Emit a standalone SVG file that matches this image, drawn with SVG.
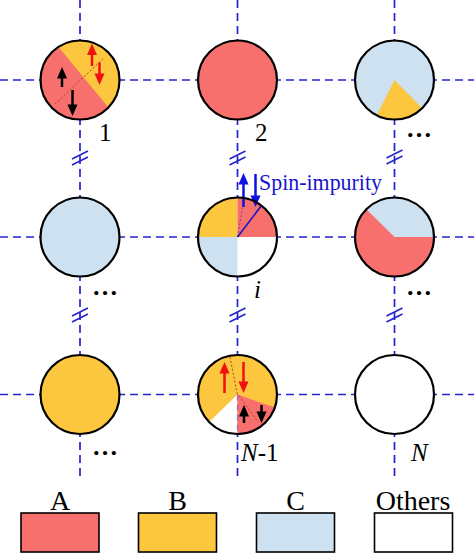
<svg xmlns="http://www.w3.org/2000/svg" width="474" height="553" viewBox="0 0 474 553">
<style>
.grid{stroke:#2424cf;stroke-width:1.7;stroke-dasharray:8,5;fill:none}
.brk{stroke:#2424cf;stroke-width:1.6;fill:none}
.ring{fill:none;stroke:#000;stroke-width:2.2}
.A{fill:#f7706d}
.B{fill:#fcc63e}
.C{fill:#cde1f1}
.O{fill:#fff}
.lbl{font-family:"Liberation Serif",serif;font-size:25px;fill:#000}
.it{font-style:italic}
.dots{font-family:"Liberation Serif",serif;font-size:26px;font-weight:bold;fill:#000}
.leg{font-family:"Liberation Serif",serif;font-size:28px;fill:#000;text-anchor:middle}
.box{stroke:#000;stroke-width:1.6}
.sk{stroke:#000;stroke-width:2.5}
.sr{stroke:#f01010;stroke-width:2.5}
.sb{stroke:#1010e0;stroke-width:2.5}
.hk{fill:#000}
.hr{fill:#f01010}
.hb{fill:#1010e0}
.dot{stroke:#b0402a;stroke-width:1;stroke-dasharray:2,2;fill:none}
</style>
<rect width="474" height="553" fill="#fff"/>
<g id="connectors">
<line class="grid" x1="80" y1="0" x2="80" y2="478"/>
<line class="grid" x1="237.5" y1="0" x2="237.5" y2="478"/>
<line class="grid" x1="394.5" y1="0" x2="394.5" y2="478"/>
<line class="grid" x1="0" y1="80" x2="474" y2="80"/>
<line class="grid" x1="0" y1="237" x2="474" y2="237"/>
<line class="grid" x1="0" y1="394.5" x2="474" y2="394.5"/>
<g class="brk">
<path d="M72,159 L88,151 M72,165 L88,157"/>
<path d="M229.5,159 L245.5,151 M229.5,165 L245.5,157"/>
<path d="M386.5,158 L402.5,150 M386.5,164 L402.5,156"/>
<path d="M72,316 L88,308 M72,322 L88,314"/>
<path d="M229.5,316 L245.5,308 M229.5,322 L245.5,314"/>
<path d="M386.5,316 L402.5,308 M386.5,322 L402.5,314"/>
</g>
</g>
<g id="node-1">
<circle class="A" cx="80" cy="80" r="39.5"/>
<path class="B" d="M58.5,46.9 A39.5,39.5 0 0 1 108.4,107.4 Z"/>
<line class="dot" x1="55" y1="104" x2="104" y2="58"/>
<line class="sk" x1="62" y1="87" x2="62" y2="76"/>
<polygon class="hk" points="62,67 57,78.5 67,78.5"/>
<line class="sk" x1="72.5" y1="90" x2="72.5" y2="106"/>
<polygon class="hk" points="72.5,116 67.5,104.5 77.5,104.5"/>
<line class="sr" x1="92" y1="66" x2="92" y2="52"/>
<polygon class="hr" points="92,43.5 87,55 97,55"/>
<line class="sr" x1="99.5" y1="62.5" x2="99.5" y2="75"/>
<polygon class="hr" points="99.5,85 94.5,73.5 104.5,73.5"/>
<circle class="ring" cx="80" cy="80" r="39.5"/>
<text class="lbl" x="99" y="141">1</text>
</g>
<g id="node-2">
<circle class="A" cx="237.5" cy="80" r="39.5"/>
<circle class="ring" cx="237.5" cy="80" r="39.5"/>
<text class="lbl" x="255" y="141">2</text>
</g>
<g id="node-3">
<circle class="C" cx="394.5" cy="80" r="39.5"/>
<path class="B" d="M394.5,80 L422.2,108.2 A39.5,39.5 0 0 1 376.8,115.3 Z"/>
<circle class="ring" cx="394.5" cy="80" r="39.5"/>
<text class="dots" x="406" y="137">…</text>
</g>
<g id="node-4">
<circle class="C" cx="80" cy="237" r="39.5"/>
<circle class="ring" cx="80" cy="237" r="39.5"/>
<text class="dots" x="92" y="295">…</text>
</g>
<g id="node-i">
<circle class="O" cx="237.5" cy="237" r="39.5"/>
<path class="B" d="M237.5,237 L198,237 A39.5,39.5 0 0 1 237.5,197.5 Z"/>
<path class="A" d="M237.5,237 L237.5,197.5 A39.5,39.5 0 0 1 277,237 Z"/>
<path class="C" d="M237.5,237 L237.5,276.5 A39.5,39.5 0 0 1 198,237 Z"/>
<line x1="237.5" y1="237" x2="244" y2="199" stroke="#8a3a7a" stroke-width="1" stroke-dasharray="2,2"/>
<line x1="237.5" y1="237" x2="261.5" y2="205.5" stroke="#1515c8" stroke-width="1.6"/>
<line class="sb" x1="243.5" y1="207" x2="243.5" y2="182"/>
<polygon class="hb" points="243.5,173 238.5,184.5 248.5,184.5"/>
<line class="sb" x1="255.5" y1="174" x2="255.5" y2="197"/>
<polygon class="hb" points="255.5,207 250.5,195.5 260.5,195.5"/>
<circle class="ring" cx="237.5" cy="237" r="39.5"/>
<text x="259" y="190" font-family="Liberation Serif, serif" font-size="23" fill="#1515d0" textLength="123" lengthAdjust="spacingAndGlyphs">Spin-impurity</text>
<text class="lbl it" x="254" y="298">i</text>
</g>
<g id="node-6">
<circle class="A" cx="394.5" cy="237" r="39.5"/>
<path class="C" d="M394.5,237 L366.3,209.3 A39.5,39.5 0 0 1 434,237 Z"/>
<circle class="ring" cx="394.5" cy="237" r="39.5"/>
<text class="dots" x="406" y="295">…</text>
</g>
<g id="node-7">
<circle class="B" cx="80" cy="394.5" r="39.5"/>
<circle class="ring" cx="80" cy="394.5" r="39.5"/>
<text class="dots" x="92" y="455">…</text>
</g>
<g id="node-N-1">
<circle class="B" cx="237.5" cy="394.5" r="39.5"/>
<path class="O" d="M237.5,394.5 L237.5,434 A39.5,39.5 0 0 1 209.1,421.9 Z"/>
<path class="A" d="M237.5,394.5 L274.8,407.4 A39.5,39.5 0 0 1 237.5,434 Z"/>
<line x1="237.5" y1="394.5" x2="237.5" y2="434" stroke="#6a4ad6" stroke-width="1.4" stroke-dasharray="6,4" opacity="0.6"/>
<polyline class="dot" points="230,357 237,393 258,422"/>
<line class="sr" x1="224.5" y1="393" x2="224.5" y2="371"/>
<polygon class="hr" points="224.5,362 219.5,373.5 229.5,373.5"/>
<line class="sr" x1="243.5" y1="362" x2="243.5" y2="383"/>
<polygon class="hr" points="243.5,393 238.5,381.5 248.5,381.5"/>
<line class="sk" x1="244" y1="423" x2="244" y2="414"/>
<polygon class="hk" points="244,405 239,416.5 249,416.5"/>
<line class="sk" x1="261.5" y1="405" x2="261.5" y2="413"/>
<polygon class="hk" points="261.5,423 256.5,411.5 266.5,411.5"/>
<circle class="ring" cx="237.5" cy="394.5" r="39.5"/>
<text class="lbl" x="241" y="461"><tspan font-style="italic">N</tspan>-1</text>
</g>
<g id="node-N">
<circle class="O" cx="394.5" cy="394.5" r="39.5"/>
<circle class="ring" cx="394.5" cy="394.5" r="39.5"/>
<text class="lbl it" x="411" y="461">N</text>
</g>
<g id="legend">
<text class="leg" x="60" y="510">A</text>
<text class="leg" x="177.5" y="510">B</text>
<text class="leg" x="295.5" y="510">C</text>
<text class="leg" x="413" y="510">Others</text>
<rect class="box A" x="21" y="513" width="78" height="39"/>
<rect class="box B" x="138.5" y="513" width="78" height="39"/>
<rect class="box C" x="256.5" y="513" width="78" height="39"/>
<rect class="box O" x="374.5" y="513" width="78" height="39"/>
</g>
</svg>
